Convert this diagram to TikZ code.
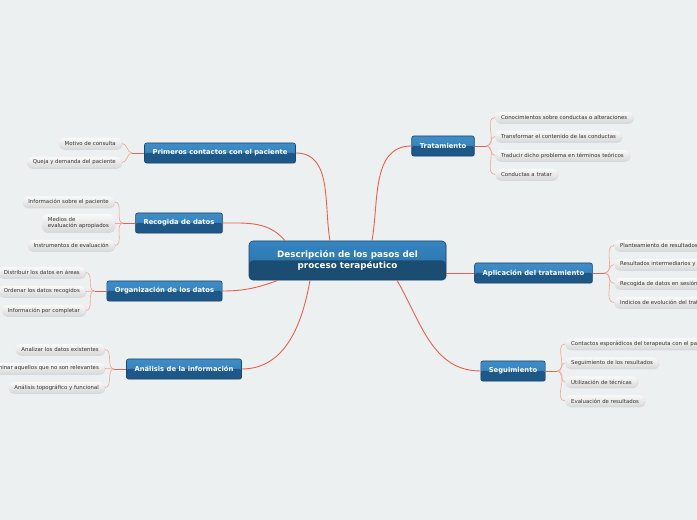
\documentclass[tikz,border=0pt]{standalone}
\usepackage{fontspec}
\setmainfont{DejaVu Sans}
\usetikzlibrary{shadows}

\definecolor{bgcol}{HTML}{ECF0F1}
\definecolor{boxtop}{HTML}{2B7FBE}
\definecolor{boxbot}{HTML}{1D5889}
\definecolor{boxdeep}{HTML}{1B4D72}
\definecolor{boxline}{HTML}{174870}
\definecolor{linkcol}{HTML}{E8604C}
\definecolor{subcol}{HTML}{F2A394}
\definecolor{pilltext}{HTML}{333333}

\tikzset{
  topic/.style={rectangle, rounded corners=2pt, draw=boxline, line width=0.6pt,
    top color=boxtop!90!white, bottom color=boxtop, text=white,
    font=\bfseries\fontsize{6.8}{8}\selectfont, inner xsep=8pt, minimum height=20pt,
    drop shadow={opacity=0.25, shadow xshift=0.6pt, shadow yshift=-0.8pt},
    path picture={\fill[boxbot] (path picture bounding box.west) rectangle (path picture bounding box.south east);}},
  centre/.style={topic, rounded corners=4pt, align=center, top color=boxtop!95!white, bottom color=boxtop!85!black,
    font=\bfseries\fontsize{8.8}{10.5}\selectfont, minimum width=197pt, minimum height=39pt,
    path picture={\fill[boxdeep] (path picture bounding box.west) rectangle (path picture bounding box.south east);}},
  pill/.style={rectangle, rounded corners=5pt, top color=white!95!gray, bottom color=gray!30,
    text=pilltext, font=\fontsize{5.4}{6.4}\selectfont, inner xsep=6pt, inner ysep=0pt,
    minimum height=11pt, drop shadow={opacity=0.2, shadow xshift=0.5pt, shadow yshift=-0.8pt}},
  link/.style={draw=linkcol, line width=0.9pt},
  sublink/.style={draw=subcol, line width=0.6pt}
}

\begin{document}
\begin{tikzpicture}[x=1pt, y=1pt]

  % Background
  \fill[bgcol] (0,0) rectangle (697,520);
  \useasboundingbox (0,0) rectangle (697,520);

  % Central topic
  \node[centre] (centre) at (347.5,259.5) {Descripción de los pasos del\\proceso terapéutico};

  % Main topics
  \node[topic] (contactos) at (220,367) {Primeros contactos con el paciente};
  \node[topic] (recogida) at (179,297) {Recogida de datos};
  \node[topic] (organizacion) at (164.5,229) {Organización de los datos};
  \node[topic] (analisis) at (184,151) {Análisis de la información};
  \node[topic] (tratamiento) at (443,374) {Tratamiento};
  \node[topic] (aplicacion) at (533.5,247) {Aplicación del tratamiento};
  \node[topic] (seguimiento) at (513,149) {Seguimiento};

  % Links from the centre
  \draw[link] (contactos.east) to[out=0,in=100] ([xshift=-17.5pt]centre.north);
  \draw[link] (recogida.east) to[out=0,in=130] ([xshift=-62.5pt]centre.north);
  \draw[link] (organizacion.east) to[out=0,in=200] ([xshift=-69.5pt]centre.south);
  \draw[link] (analisis.east) to[out=0,in=-100] ([xshift=-37.5pt]centre.south);
  \draw[link] (tratamiento.west) to[out=180,in=80] ([xshift=24.5pt]centre.north);
  \draw[link] (aplicacion.west) -- (centre.east |- aplicacion.west);
  \draw[link] (seguimiento.west) to[out=180,in=-60] ([xshift=49.5pt]centre.south);

  % Subtopics, left side
  \foreach \txt [count=\i] in {Motivo de consulta, Queja y demanda del paciente}
    \node[pill, anchor=east] (contactos\i) at (122,395.5-19*\i) {\txt};
  \node[pill, anchor=east] (recogida1) at (115,318) {Información sobre el paciente};
  \node[pill, anchor=east, align=left, minimum height=18pt] (recogida2) at (115,297) {Medios de\\ evaluación apropiados};
  \node[pill, anchor=east] (recogida3) at (115,274.5) {Instrumentos de evaluación};
  \foreach \txt [count=\i] in {Distribuir los datos en áreas, Ordenar los datos recogidos, Información por completar}
    \node[pill, anchor=east] (organizacion\i) at (86,266.5-19*\i) {\txt};
  \foreach \txt [count=\i] in {Analizar los datos existentes, Eliminar aquellos que no son relevantes, Análisis topográfico y funcional}
    \node[pill, anchor=east] (analisis\i) at (105,189.5-19*\i) {\txt};

  % Subtopics, right side
  \foreach \txt [count=\i] in {Conocimientos sobre conductas o alteraciones, Transformar el contenido de las conductas, Traducir dicho problema en términos teóricos, Conductas a tratar}
    \node[pill, anchor=west] (tratamiento\i) at (495,421.5-19*\i) {\txt};
  \foreach \txt [count=\i] in {Planteamiento de resultados, Resultados intermediarios y finales, Recogida de datos en sesión, Indicios de evolución del tratamiento}
    \node[pill, anchor=west] (aplicacion\i) at (614,293.5-19*\i) {\txt};
  \foreach \txt [count=\i] in {Contactos esporádicos del terapeuta con el paciente, Seguimiento de los resultados, Utilización de técnicas, Evaluación de resultados}
    \node[pill, anchor=west] (seguimiento\i) at (565,195-19*\i) {\txt};

  % Links to subtopics
  \foreach \t/\n in {contactos/2, recogida/3, organizacion/3, analisis/3} {
    \draw[link, line width=0.6pt] (\t.west) -- ++(-12pt,0) coordinate (\t j);
    \foreach \i in {1,...,\n}
      \draw[sublink] (\t j) to[out=180,in=0] (\t\i.east);
  }
  \foreach \t/\n in {tratamiento/4, aplicacion/4, seguimiento/4} {
    \draw[link, line width=0.6pt] (\t.east) -- ++(12pt,0) coordinate (\t j);
    \foreach \i in {1,...,\n}
      \draw[sublink] (\t j) to[out=0,in=180] (\t\i.west);
  }

\end{tikzpicture}
\end{document}
